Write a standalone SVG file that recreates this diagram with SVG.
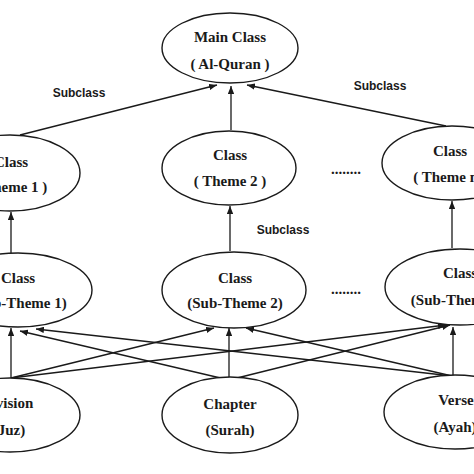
<svg xmlns="http://www.w3.org/2000/svg" width="474" height="474" viewBox="0 0 474 474">
<defs>
<marker id="ah" viewBox="0 0 10 8" refX="10" refY="4" markerWidth="8" markerHeight="6.4" markerUnits="userSpaceOnUse" orient="auto">
<path d="M0,0 L10,4 L0,8 Z" fill="#1a1a1a"/>
</marker>
<style>
.n ellipse{fill:#fff;stroke:#1a1a1a;stroke-width:1.4}
.n text,.dots{font-family:"Liberation Serif","Times New Roman",serif;font-weight:bold;font-size:15px;fill:#1a1a1a;text-anchor:middle}
.lbl{font-family:"Liberation Sans",Arial,sans-serif;font-weight:bold;font-size:12px;fill:#1a1a1a;text-anchor:middle}
#edges line{stroke:#1a1a1a;stroke-width:1.3;marker-end:url(#ah)}
</style>
</defs>
<rect width="474" height="474" fill="#fff"/>
<g id="edges">
<line x1="20" y1="135" x2="217" y2="85"/>
<line x1="231" y1="130" x2="231" y2="86"/>
<line x1="446" y1="126" x2="247" y2="85"/>
<line x1="11" y1="254" x2="11" y2="212"/>
<line x1="230" y1="251" x2="230" y2="206"/>
<line x1="452" y1="248" x2="452" y2="201"/>
<line x1="11" y1="378" x2="11" y2="328"/>
<line x1="11" y1="378" x2="214" y2="328"/>
<line x1="11" y1="378" x2="446" y2="325"/>
<line x1="229" y1="380" x2="20" y2="331"/>
<line x1="229" y1="380" x2="229" y2="328"/>
<line x1="229" y1="380" x2="450" y2="325"/>
<line x1="452" y1="376" x2="36" y2="329"/>
<line x1="452" y1="376" x2="246" y2="328"/>
<line x1="453" y1="376" x2="453" y2="327"/>
</g>
<g id="main" class="n"><ellipse cx="230" cy="48" rx="68" ry="35"/><text x="230" y="42">Main Class</text><text x="230" y="69">( Al-Quran )</text></g>
<g id="theme1" class="n"><ellipse cx="10" cy="173" rx="70" ry="38"/><text x="11" y="167">Class</text><text x="11" y="192">( Theme 1 )</text></g>
<g id="theme2" class="n"><ellipse cx="229" cy="168" rx="67" ry="37"/><text x="230" y="160">Class</text><text x="230" y="186">( Theme 2 )</text></g>
<g id="themen" class="n"><ellipse cx="452" cy="163" rx="70" ry="37"/><text x="450" y="156">Class</text><text x="450" y="182">( Theme n )</text></g>
<g id="sub1" class="n"><ellipse cx="18" cy="290" rx="74" ry="37"/><text x="18" y="283">Class</text><text x="19" y="308">(Sub-Theme 1)</text></g>
<g id="sub2" class="n"><ellipse cx="234" cy="290" rx="72" ry="38"/><text x="235" y="283">Class</text><text x="235" y="308">(Sub-Theme 2)</text></g>
<g id="subn" class="n"><ellipse cx="460" cy="287" rx="75" ry="38"/><text x="460" y="278">Class</text><text x="459" y="305">(Sub-Theme n)</text></g>
<g id="division" class="n"><ellipse cx="10" cy="415" rx="70" ry="37"/><text x="7" y="408">Division</text><text x="9" y="435">(Juz)</text></g>
<g id="chapter" class="n"><ellipse cx="230" cy="415" rx="68" ry="38"/><text x="230" y="409">Chapter</text><text x="230" y="435">(Surah)</text></g>
<g id="verse" class="n"><ellipse cx="455" cy="412" rx="71" ry="37"/><text x="456" y="405">Verse</text><text x="455" y="432">(Ayah)</text></g>
<text class="lbl" x="79" y="97">Subclass</text>
<text class="lbl" x="380" y="90">Subclass</text>
<text class="lbl" x="283" y="234">Subclass</text>
<text class="dots" x="346" y="174">........</text>
<text class="dots" x="346" y="294">........</text>
</svg>
